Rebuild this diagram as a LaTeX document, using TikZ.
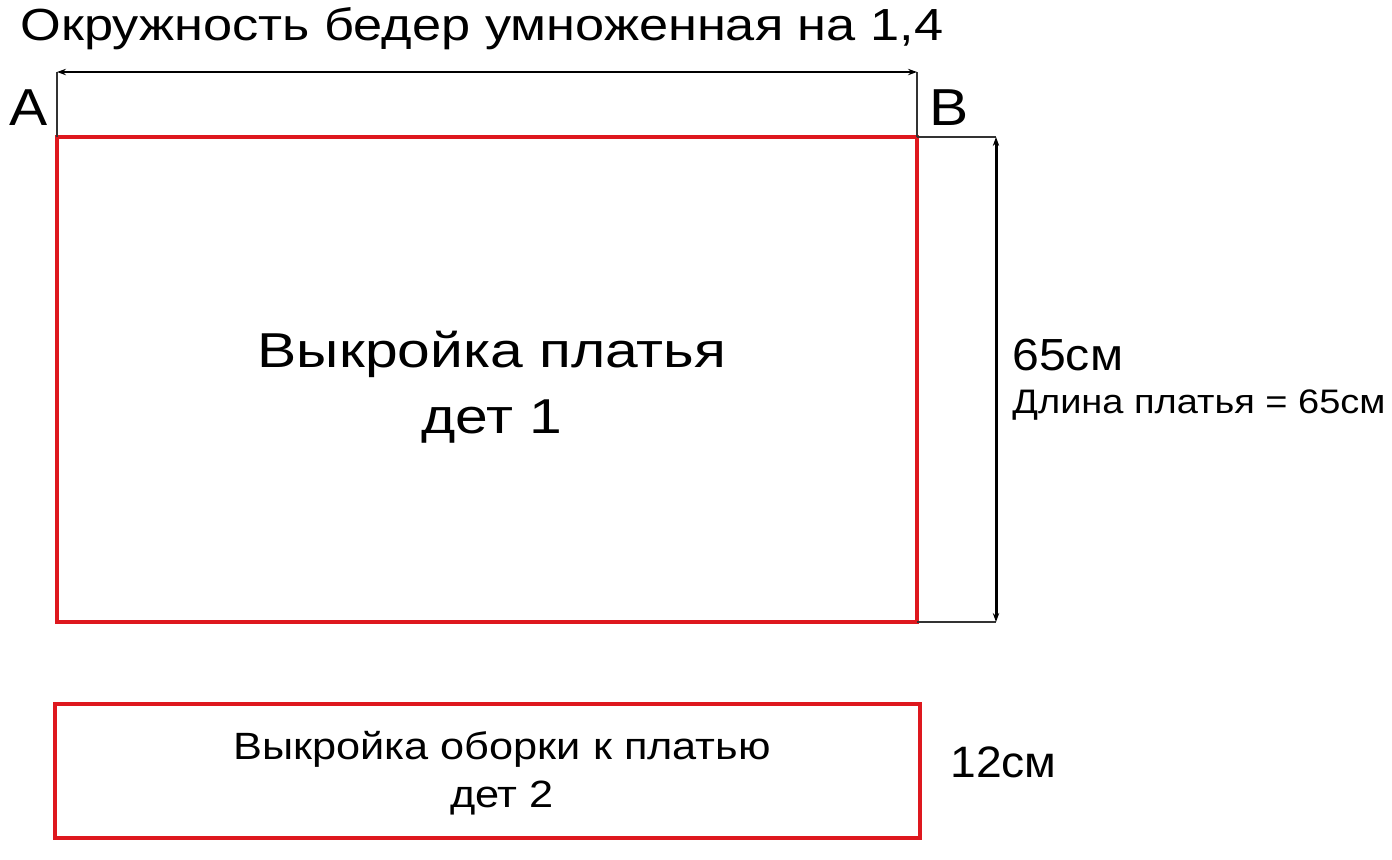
\documentclass[tikz,border=0pt]{standalone}
\usepackage{fontspec}
\setmainfont{Liberation Sans}
\usetikzlibrary{positioning,arrows.meta}
\definecolor{cutred}{RGB}{222,24,30}
\newcommand\wide[2]{\scalebox{#1}[1]{#2}}
\tikzset{
  partline/.style={draw=cutred, line width=2.2pt},
  dimline/.style={line width=1pt, {Stealth[length=4.5pt,width=3.2pt]}-{Stealth[length=4.5pt,width=3.2pt]}},
  extline/.style={line width=0.6pt, black!80},
  label/.style={inner sep=0pt, anchor=base},
}

\begin{document}
\begin{tikzpicture}[x=0.5pt,y=-0.5pt]
\useasboundingbox (0,0) rectangle (1392,859);

% corners of the pieces
\coordinate (p1nw) at (57,137);
\coordinate (p1ne) at (917,137);
\coordinate (p1se) at (917,622);
\coordinate (p2nw) at (55,704);
\coordinate (p2se) at (920,838);
% dimension ends
\coordinate (dimA) at (57,72);
\coordinate (dimB) at (917,72);
\coordinate (dimTop) at (996,137);
\coordinate (dimBot) at (996,622);

% pieces
\draw [partline] (p1nw) rectangle (p1se);
\draw [partline] (p2nw) rectangle (p2se);

% extension lines
\draw [extline] (p1nw) -- (dimA);
\draw [extline] (p1ne) -- (dimB);
\draw [extline] (p1ne) -- (dimTop);
\draw [extline] (p1se) -- (dimBot);

% dimensions
\draw [dimline] (dimA) -- (dimB);
\draw [dimline, line width=1.5pt] (dimTop) -- (dimBot);

% texts
\node (title) [label, font=\fontsize{22.5}{26}\selectfont] at (482,40) {\wide{1.163}{Окружность бедер умноженная на 1,4}};
\node (ptA) [label, font=\fontsize{26}{30}\selectfont] at (29,125) {\wide{1.1}{A}};
\node (ptB) [label, font=\fontsize{26}{30}\selectfont] at (949,125) {\wide{1.13}{B}};
\node (len) [label, anchor=base west, font=\fontsize{22.5}{26}\selectfont] at (1012,370) {\wide{1.07}{65см}};
\node (lentext) [label, anchor=base west, font=\fontsize{17}{20}\selectfont] at (1012,413) {\wide{1.117}{Длина платья = 65см}};
\node (part1) [align=center, inner sep=0pt, font=\fontsize{24.5}{33}\selectfont] at (492,387) {\wide{1.2}{Выкройка платья}\\\wide{1.2}{дет 1}};
\node (part2) [align=center, inner sep=0pt, font=\fontsize{19}{24}\selectfont] at (502,773) {\wide{1.14}{Выкройка оборки к платью}\\\wide{1.14}{дет 2}};
\node (frill) [label, anchor=base west, font=\fontsize{22}{26}\selectfont] at (950,777) {\wide{1.05}{12см}};

\end{tikzpicture}
\end{document}
